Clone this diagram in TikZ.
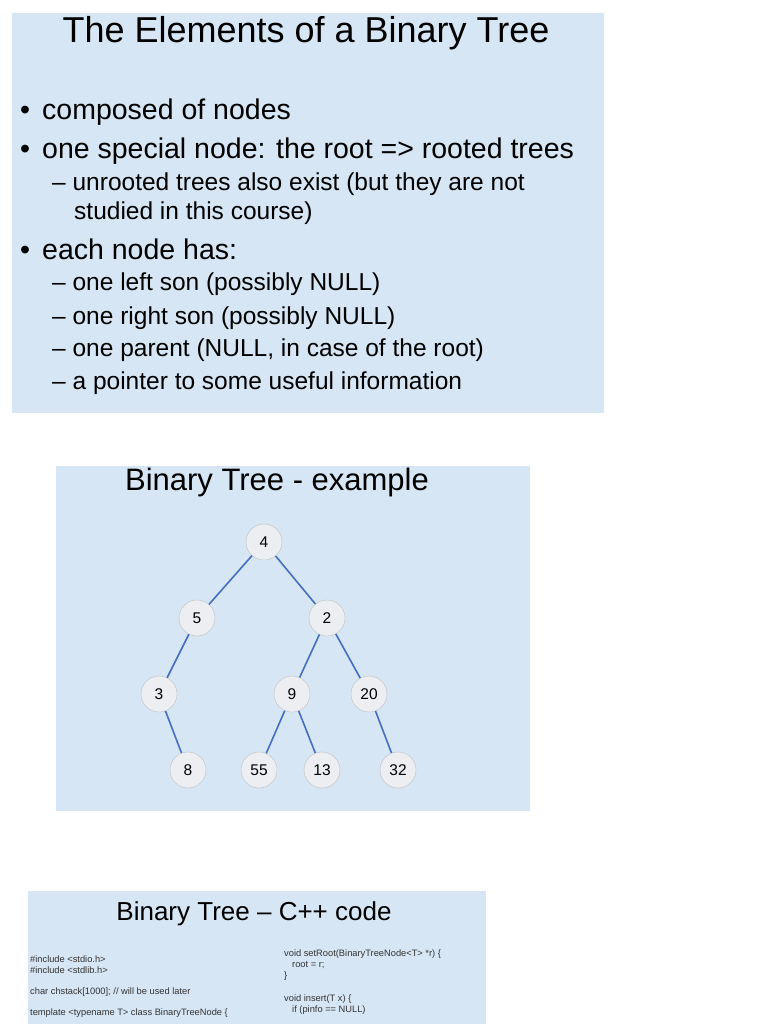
\documentclass[tikz,border=0pt]{standalone}
\usepackage{fontspec}
\setmainfont{Liberation Sans}
\definecolor{slide}{RGB}{214,230,244}
\definecolor{nodefill}{RGB}{236,238,242}
\definecolor{edge}{RGB}{70,110,190}
\begin{document}
\begin{tikzpicture}[x=1pt,y=-1pt,
  tn/.style={circle,draw=black!25,fill=nodefill,minimum size=36pt,inner sep=0pt,font=\fontsize{15.5}{15.5}\selectfont},
  ed/.style={draw=edge,line width=1.6pt},
  big/.style={anchor=west,inner sep=0pt,font=\fontsize{28.5}{32}\selectfont},
  sub/.style={anchor=west,inner sep=0pt,font=\fontsize{24.5}{29}\selectfont,align=left},
  code/.style={anchor=north west,inner sep=0pt,font=\fontsize{9.3}{11}\selectfont,align=left,text=black!80}]
\useasboundingbox (0,0) rectangle (768,1024);
\fill[white] (0,0) rectangle (768,1024);
% slide 1
\fill[slide] (12,13) rectangle (604,413);
\node[inner sep=0pt,font=\fontsize{36}{40}\selectfont] (t1) at (306,33) {The Elements of a Binary Tree};
\node[big] (b1) at (20,112) {•\hspace{12pt}composed of nodes};
\node[big] (b2) at (20,151) {•\hspace{12pt}one special node: the root => rooted trees};
\node[sub] (s1) at (52,199) {– unrooted trees also exist (but they are not\\\hspace{22pt}studied in this course)};
\node[big] (b3) at (20,249) {•\hspace{12pt}each node has:};
\node[sub] (s2) at (52,284) {– one left son (possibly NULL)};
\node[sub] (s3) at (52,318) {– one right son (possibly NULL)};
\node[sub] (s4) at (52,350) {– one parent (NULL, in case of the root)};
\node[sub] (s5) at (52,383) {– a pointer to some useful information};
% slide 2
\fill[slide] (56,466) rectangle (530,811);
\node[inner sep=0pt,font=\fontsize{31}{34}\selectfont] (t2) at (277,482) {Binary Tree - example};
\node[tn] (n4) at (264,542) {4};
\node[tn] (n5) at (197,618) {5};
\node[tn] (n2) at (327,618) {2};
\node[tn] (n3) at (159,694) {3};
\node[tn] (n9) at (292,694) {9};
\node[tn] (n20) at (369,694) {20};
\node[tn] (n8) at (188,770) {8};
\node[tn] (n55) at (259,770) {55};
\node[tn] (n13) at (322,770) {13};
\node[tn] (n32) at (398,770) {32};
\foreach \a/\b in {n4/n5,n4/n2,n5/n3,n2/n9,n2/n20,n3/n8,n9/n55,n9/n13,n20/n32}
  \draw[ed] (\a) -- (\b);
% slide 3
\fill[slide] (28,891) rectangle (486,1024);
\node[inner sep=0pt,font=\fontsize{26}{29}\selectfont] (t3) at (254,914) {Binary Tree – C++ code};
\node[code] (c1) at (30,956) {\#include <stdio.h>\\\#include <stdlib.h>\\[10pt]char chstack[1000]; // will be used later\\[10pt]template <typename T> class BinaryTreeNode \{};
\node[code] (c2) at (284,950) {void setRoot(BinaryTreeNode<T> *r) \{\\\hspace{8pt}root = r;\\\}\\[12pt]void insert(T x) \{\\\hspace{8pt}if (pinfo == NULL)};
\end{tikzpicture}
\end{document}
